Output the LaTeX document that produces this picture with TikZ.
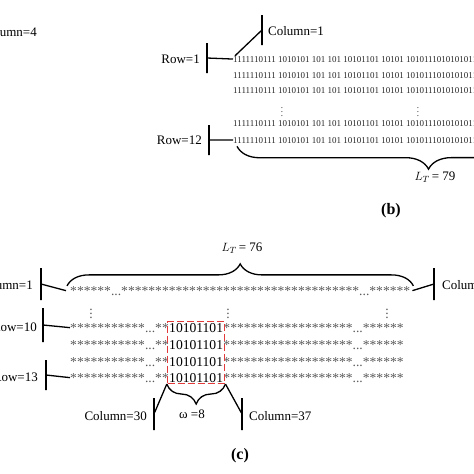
\documentclass[tikz,border=0pt]{standalone}
\usepackage{fontspec}
\setmainfont{Liberation Serif}
\usetikzlibrary{positioning,fit,decorations.pathreplacing}
\definecolor{boxred}{HTML}{E23A3A}
\tikzset{
	bar/.style={draw,line width=1.3pt,minimum width=0pt,minimum height=30pt,inner sep=0pt},
	lnk/.style={line width=1.3pt},
	lab/.style={font=\fontsize{13}{13}\selectfont,inner sep=0pt},
	bits/.style={font=\fontsize{9}{9}\selectfont,inner sep=0pt,text=black!85},
	stars/.style={font=\fontsize{13.6}{14}\selectfont,inner sep=0pt,text=black!65},
	win/.style={font=\fontsize{13.6}{14}\selectfont,inner sep=0pt,text=black},
	brc/.style={decorate,decoration={brace,amplitude=#1},line width=1.3pt},
	redbox/.style={draw=boxred,dash pattern=on 7pt off 3pt,line width=1.4pt,inner xsep=1.5pt,inner ysep=1pt},
	capt/.style={font=\fontsize{16}{16}\selectfont\bfseries}
}
\newcommand{\bitrow}{1111110111 1010101 101 101 10101101 10101 1010111010101011}
\newcommand{\starsL}{***********...**}
\newcommand{\starsR}{*******************...******}

\begin{document}
\begin{tikzpicture}[x=1pt,y=-1pt]
	\useasboundingbox (0,0) rectangle (474,474);
	\clip (0,0) rectangle (474,474);

	%%Part (a), only its tail is left
	\node[lab,anchor=east] (cola4) at (37,32) {Column=4};

	%%Part (b)
	\node[bits,anchor=base west] (brow1) at (233,62) {\bitrow};
	\node[bits,anchor=base west] (brow2) at (233,78) {\bitrow};
	\node[bits,anchor=base west] (brow3) at (233,93) {\bitrow};
	\node[bits] (bdots1) at (282,109) {$\vdots$};
	\node[bits] (bdots2) at (418,109) {$\vdots$};
	\node[bits,anchor=base west] (brow11) at (233,126) {\bitrow};
	\node[bits,anchor=base west] (brow12) at (233,143) {\bitrow};

	\node[bar] (colb) at (262,30) {};
	\node[lab,anchor=west] (colblab) at (268,31) {Column=1};
	\node[bar] (rowb1) at (207,58) {};
	\node[lab,anchor=east] (rowb1lab) at (200,59) {Row=1};
	\node[bar] (rowb12) at (209,140) {};
	\node[lab,anchor=east] (rowb12lab) at (202,140) {Row=12};
	\coordinate (bend) at (620,146);

	\draw[lnk] (rowb1) -- (brow1.west);
	\draw[lnk] ([xshift=2pt]brow1.north west) -- (colb);
	\draw[lnk] (rowb12) -- (brow12.west);
	\draw[brc=23pt] (bend) -- ([xshift=4pt,yshift=-3pt]brow12.south west);
	\node[lab] (ltb) at (435,177) {$L_T$\,= 79};
	\node[capt] (capb) at (391,211) {(b)};

	%%Part (c)
	\node[stars,anchor=base west] (crow1) at (70,295) {******...***********************************...******};
	\node[stars] (cdots1) at (91,311) {$\vdots$};
	\node[stars] (cdots2) at (228,311) {$\vdots$};
	\node[stars] (cdots3) at (387,311) {$\vdots$};

	%rows 10 to 13, window in the middle
	\node[stars,anchor=base west] (c10l) at (70,332) {\starsL};
	\node[win,base right=0pt of c10l] (c10w) {10101101};
	\node[stars,base right=0pt of c10w] (c10r) {\starsR};
	\node[stars,anchor=base west] (c11l) at (70,349) {\starsL};
	\node[win,base right=0pt of c11l] (c11w) {10101101};
	\node[stars,base right=0pt of c11w] (c11r) {\starsR};
	\node[stars,anchor=base west] (c12l) at (70,366) {\starsL};
	\node[win,base right=0pt of c12l] (c12w) {10101101};
	\node[stars,base right=0pt of c12w] (c12r) {\starsR};
	\node[stars,anchor=base west] (c13l) at (70,382) {\starsL};
	\node[win,base right=0pt of c13l] (c13w) {10101101};
	\node[stars,base right=0pt of c13w] (c13r) {\starsR};
	\node[redbox,fit=(c10w)(c13w)] (winbox) {};

	\node[bar,minimum height=32pt] (colc1) at (41,284) {};
	\node[lab,anchor=east] (colc1lab) at (33,285) {Column=1};
	\node[bar,minimum height=32pt] (colc76) at (434,284) {};
	\node[lab,anchor=west] (colc76lab) at (442,285) {Column=76};
	\node[bar,minimum height=34pt] (rowc10) at (43,325) {};
	\node[lab,anchor=east] (rowc10lab) at (37,327) {Row=10};
	\node[bar] (rowc13) at (46,375) {};
	\node[lab,anchor=east] (rowc13lab) at (38,377) {Row=13};
	\node[bar,minimum height=32pt] (colc30) at (154,414) {};
	\node[lab,anchor=east] (colc30lab) at (147,416) {Column=30};
	\node[bar,minimum height=32pt] (colc37) at (242,414) {};
	\node[lab,anchor=west] (colc37lab) at (249,416) {Column=37};

	\draw[brc=22pt] ([xshift=-3pt]crow1.north west) -- ([xshift=3pt]crow1.north east);
	\node[lab] (ltc) at (242,248) {$L_T$\,= 76};
	\draw[lnk] (colc1) -- ([xshift=-4pt]crow1.west);
	\draw[lnk] ([xshift=2pt]crow1.east) -- (colc76);
	\draw[lnk] (rowc10) -- (c10l.west);
	\draw[lnk] (rowc13) -- (c13l.west);
	\draw[brc=20pt] (winbox.south east) -- (winbox.south west);
	\draw[lnk] (winbox.south west) -- (colc30);
	\draw[lnk] (winbox.south east) -- (colc37);
	\node[lab] (omega) at (192,414) {ω =8};
	\node[capt] (capc) at (240,456) {(c)};
\end{tikzpicture}
\end{document}
